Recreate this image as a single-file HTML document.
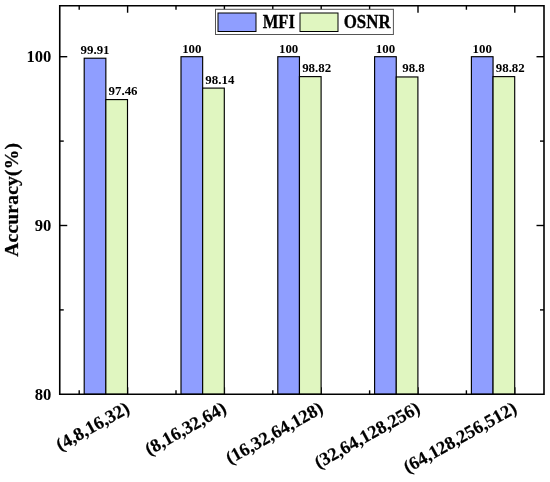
<!DOCTYPE html>
<html lang="en"><head><meta charset="utf-8"><title>Accuracy chart</title>
<style>html,body{margin:0;padding:0;background:#fff;width:550px;height:482px;overflow:hidden}</style></head>
<body>
<svg width="550" height="482" viewBox="0 0 550 482" style="display:block;position:absolute;left:0;top:0">
<rect x="0" y="0" width="550" height="482" fill="#fff"/>
<g font-family="'Liberation Serif', 'Times New Roman', serif" font-weight="bold" fill="#000">
<g stroke="#000" stroke-width="1.4" fill="none">
<line x1="127.60" y1="5.75" x2="127.60" y2="12.75"/>
<line x1="79.20" y1="5.75" x2="79.20" y2="9.75"/>
<line x1="79.20" y1="394.3" x2="79.20" y2="390.3"/>
<line x1="127.60" y1="394.3" x2="127.60" y2="387.3"/>
<line x1="224.40" y1="5.75" x2="224.40" y2="12.75"/>
<line x1="176.00" y1="5.75" x2="176.00" y2="9.75"/>
<line x1="176.00" y1="394.3" x2="176.00" y2="390.3"/>
<line x1="224.40" y1="394.3" x2="224.40" y2="387.3"/>
<line x1="321.20" y1="5.75" x2="321.20" y2="12.75"/>
<line x1="272.80" y1="5.75" x2="272.80" y2="9.75"/>
<line x1="272.80" y1="394.3" x2="272.80" y2="390.3"/>
<line x1="321.20" y1="394.3" x2="321.20" y2="387.3"/>
<line x1="418.00" y1="5.75" x2="418.00" y2="12.75"/>
<line x1="369.60" y1="5.75" x2="369.60" y2="9.75"/>
<line x1="369.60" y1="394.3" x2="369.60" y2="390.3"/>
<line x1="418.00" y1="394.3" x2="418.00" y2="387.3"/>
<line x1="514.80" y1="5.75" x2="514.80" y2="12.75"/>
<line x1="466.40" y1="5.75" x2="466.40" y2="9.75"/>
<line x1="466.40" y1="394.3" x2="466.40" y2="390.3"/>
<line x1="514.80" y1="394.3" x2="514.80" y2="387.3"/>
<line x1="59.75" y1="56.70" x2="67.25" y2="56.70"/>
<line x1="544.0" y1="56.70" x2="536.5" y2="56.70"/>
<line x1="59.75" y1="141.10" x2="63.75" y2="141.10"/>
<line x1="544.0" y1="141.10" x2="540.0" y2="141.10"/>
<line x1="59.75" y1="225.50" x2="67.25" y2="225.50"/>
<line x1="544.0" y1="225.50" x2="536.5" y2="225.50"/>
<line x1="59.75" y1="309.90" x2="63.75" y2="309.90"/>
<line x1="544.0" y1="309.90" x2="540.0" y2="309.90"/>
</g>
<g stroke="#000" stroke-width="1.15">
<rect x="84.20" y="58.22" width="21.65" height="336.08" fill="#8f9eff"/>
<rect x="105.85" y="99.58" width="21.65" height="294.72" fill="#e0f6c0"/>
<rect x="181.00" y="56.70" width="21.65" height="337.60" fill="#8f9eff"/>
<rect x="202.65" y="88.10" width="21.65" height="306.20" fill="#e0f6c0"/>
<rect x="277.80" y="56.70" width="21.65" height="337.60" fill="#8f9eff"/>
<rect x="299.45" y="76.62" width="21.65" height="317.68" fill="#e0f6c0"/>
<rect x="374.60" y="56.70" width="21.65" height="337.60" fill="#8f9eff"/>
<rect x="396.25" y="76.96" width="21.65" height="317.34" fill="#e0f6c0"/>
<rect x="471.40" y="56.70" width="21.65" height="337.60" fill="#8f9eff"/>
<rect x="493.05" y="76.62" width="21.65" height="317.68" fill="#e0f6c0"/>
</g>
<path d="M58.95 4.95H544.8V395.05H58.95Z M60.55 6.55V393.55H543.2V6.55Z" fill="#000" fill-rule="evenodd"/>
<rect x="215.5" y="9.3" width="177.9" height="25.2" fill="#fff" stroke="#555" stroke-width="1"/>
<rect x="218" y="13" width="38" height="18.5" fill="#8f9eff" stroke="#000" stroke-width="1"/>
<rect x="300" y="13" width="38" height="18.5" fill="#e0f6c0" stroke="#000" stroke-width="1"/>
<text transform="translate(262.7,28.2) scale(0.965,1.06)" font-size="17.2" stroke="#000" stroke-width="0.3">MFI</text>
<text transform="translate(343.7,28.3) scale(0.965,1.07)" font-size="17.5" stroke="#000" stroke-width="0.3">OSNR</text>
<text x="51.3" y="62.10" font-size="16.6" text-anchor="end">100</text>
<text x="51.3" y="230.90" font-size="16.6" text-anchor="end">90</text>
<text x="51.3" y="399.70" font-size="16.6" text-anchor="end">80</text>
<text transform="translate(17.6,199.8) rotate(-90)" font-size="19.5" letter-spacing="0.22" stroke="#000" stroke-width="0.25" text-anchor="middle">Accuracy(%)</text>
<text x="95.03" y="54.22" font-size="12.9" text-anchor="middle">99.91</text>
<text x="123.08" y="95.08" font-size="12.9" text-anchor="middle">97.46</text>
<text x="191.82" y="52.70" font-size="12.9" text-anchor="middle">100</text>
<text x="219.88" y="83.60" font-size="12.9" text-anchor="middle">98.14</text>
<text x="288.62" y="52.70" font-size="12.9" text-anchor="middle">100</text>
<text x="316.67" y="72.12" font-size="12.9" text-anchor="middle">98.82</text>
<text x="385.42" y="52.70" font-size="12.9" text-anchor="middle">100</text>
<text x="413.47" y="72.46" font-size="12.9" text-anchor="middle">98.8</text>
<text x="482.22" y="52.70" font-size="12.9" text-anchor="middle">100</text>
<text x="510.27" y="72.12" font-size="12.9" text-anchor="middle">98.82</text>
<text transform="translate(130.80,411.80) rotate(-29.2)" font-size="18.3" stroke="#000" stroke-width="0.2" text-anchor="end">(4,8,16,32)</text>
<text transform="translate(227.60,411.80) rotate(-29.2)" font-size="18.3" stroke="#000" stroke-width="0.2" text-anchor="end">(8,16,32,64)</text>
<text transform="translate(324.40,411.80) rotate(-29.2)" font-size="18.3" stroke="#000" stroke-width="0.2" text-anchor="end">(16,32,64,128)</text>
<text transform="translate(421.20,411.80) rotate(-29.2)" font-size="18.3" stroke="#000" stroke-width="0.2" text-anchor="end">(32,64,128,256)</text>
<text transform="translate(518.00,411.80) rotate(-29.2)" font-size="18.3" stroke="#000" stroke-width="0.2" text-anchor="end">(64,128,256,512)</text>
</g></svg>
</body></html>
